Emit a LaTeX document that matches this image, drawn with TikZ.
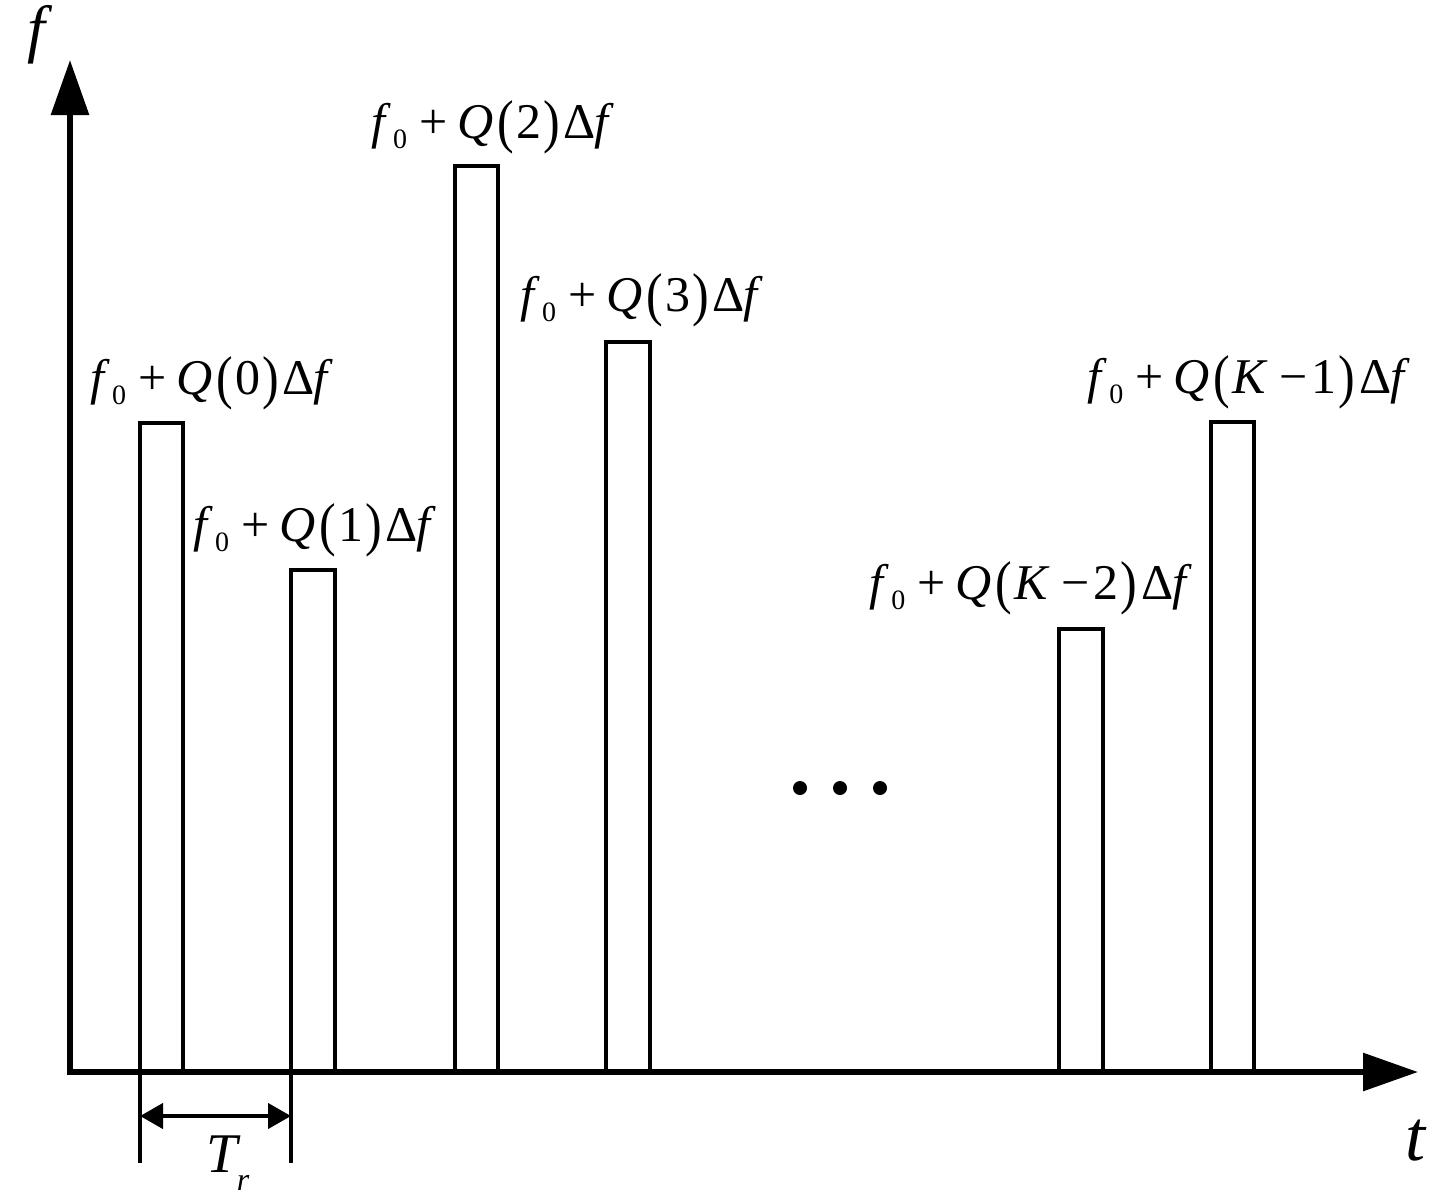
\documentclass[tikz,border=0pt]{standalone}
\usepackage{fontspec}
\setmainfont{Liberation Serif}
\usetikzlibrary{arrows.meta}
\newcommand\fzero{\textit{f}\kern1pt\raisebox{-5pt}{\fontsize{14}{14}\selectfont 0}}
\newcommand\lpar{\raisebox{-1.5pt}{\scalebox{1}[1.18]{(}}}
\newcommand\rpar{\raisebox{-1.5pt}{\scalebox{1}[1.18]{)}}}
\newcommand\flab[1]{\fontsize{25}{25}\selectfont\fzero\kern6pt+\kern5pt\textit{Q}\kern2pt\lpar\kern1pt#1\kern1pt\rpar\kern2ptΔ\kern-0.5pt\textit{f}}
\begin{document}
\begin{tikzpicture}[x=0.5pt,y=-0.5pt,
  axis/.style={line width=3pt,-{Triangle[length=27.5pt,width=18.5pt]}},
  bar/.style={line width=2pt},
  lbl/.style={inner sep=0pt,anchor=base},
  dim/.style={line width=2pt},
  dimarrow/.style={line width=2pt,{Triangle[length=11.5pt,width=12.5pt]}-{Triangle[length=11.5pt,width=12.5pt]}},
  dot/.style={fill=black,draw=none,circle,minimum size=7pt,inner sep=0pt}]
\useasboundingbox (0,0) rectangle (1451,1200);
% axes
\coordinate (O) at (70,1072);
\coordinate (ytip) at (70,60);
\coordinate (xtip) at (1418,1072);
\draw[axis] (70,1075) -- (ytip);
\draw[axis] (67,1072) -- (xtip);
\node[lbl] (flabel) at (40,50) {\fontsize{32}{32}\selectfont\textit{f}};
\node[lbl] (tlabel) at (1416,1160) {\fontsize{36}{36}\selectfont\textit{t}};
% bars
\draw[bar] (140,1072) rectangle (183,423) coordinate (b1);
\draw[bar] (291,1072) rectangle (335,570) coordinate (b2);
\draw[bar] (455,1072) rectangle (498,166) coordinate (b3);
\draw[bar] (606,1072) rectangle (650,342) coordinate (b4);
\draw[bar] (1059,1072) rectangle (1103,629) coordinate (b5);
\draw[bar] (1211,1072) rectangle (1254,422) coordinate (b6);
% labels
\node[lbl] (l1) at (212,394) {\flab{0}};
\node[lbl] (l2) at (315,541) {\flab{1}};
\node[lbl] (l3) at (493,138) {\flab{2}};
\node[lbl] (l4) at (642,311) {\flab{3}};
\node[lbl] (l5) at (1031,599) {\flab{\textit{K}\kern6pt−\kern2pt2}};
\node[lbl] (l6) at (1249,393) {\flab{\textit{K}\kern6pt−\kern2pt1}};
% dots
\node[dot] (d1) at (800,788) {};
\node[dot] (d2) at (840,788) {};
\node[dot] (d3) at (880,788) {};
% Tr dimension
\coordinate (t1a) at (140,1072);
\coordinate (t1b) at (140,1163);
\coordinate (t2a) at (291,1072);
\coordinate (t2b) at (291,1163);
\draw[dim] (t1a) -- (t1b);
\draw[dim] (t2a) -- (t2b);
\coordinate (ta) at (140,1116);
\coordinate (tb) at (291,1116);
\draw[dimarrow] (ta) -- (tb);
\node[lbl] (trlabel) at (228,1172) {\fontsize{28}{28}\selectfont\textit{T}\kern-2pt\raisebox{-9pt}{\fontsize{16}{16}\selectfont\textit{r}}};
\end{tikzpicture}
\end{document}
